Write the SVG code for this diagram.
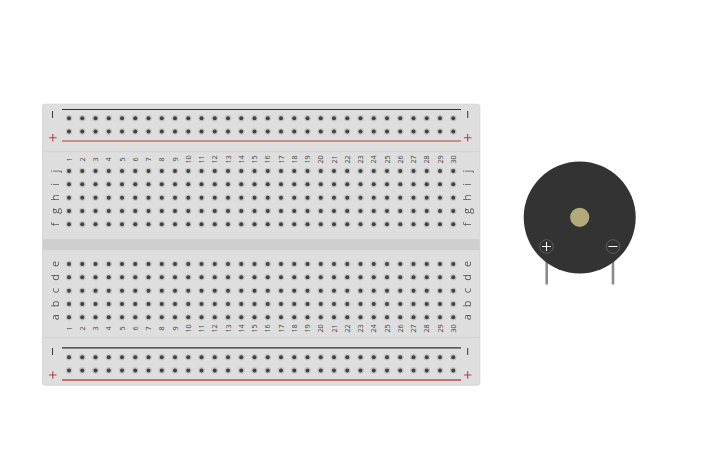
<svg xmlns="http://www.w3.org/2000/svg" width="725" height="453" viewBox="0 0 725 453">
<style>
.n{font-family:"Open Sans","Noto Sans",sans-serif;font-size:7.2px;fill:#404040;text-anchor:middle}
.l{font-family:"Open Sans","Noto Sans",sans-serif;font-size:11px;fill:#555;text-anchor:middle}
.t{opacity:.99}
.lead{stroke:#8c8c8c;stroke-width:2.6;fill:none}
.sym{stroke:#fff;stroke-width:1.1;fill:none}
</style>
<defs>
<g id="hole"><circle r="3.3" fill="#c4c4c4"/><circle r="2" fill="#414141"/></g>
<g id="row">
<use href="#hole" x="69"/><use href="#hole" x="82.25"/><use href="#hole" x="95.5"/><use href="#hole" x="108.75"/><use href="#hole" x="122"/><use href="#hole" x="135.25"/><use href="#hole" x="148.5"/><use href="#hole" x="161.75"/><use href="#hole" x="175"/><use href="#hole" x="188.25"/><use href="#hole" x="201.5"/><use href="#hole" x="214.75"/><use href="#hole" x="228"/><use href="#hole" x="241.25"/><use href="#hole" x="254.5"/><use href="#hole" x="267.75"/><use href="#hole" x="281"/><use href="#hole" x="294.25"/><use href="#hole" x="307.5"/><use href="#hole" x="320.75"/><use href="#hole" x="334"/><use href="#hole" x="347.25"/><use href="#hole" x="360.5"/><use href="#hole" x="373.75"/><use href="#hole" x="387"/><use href="#hole" x="400.25"/><use href="#hole" x="413.5"/><use href="#hole" x="426.75"/><use href="#hole" x="440"/><use href="#hole" x="453.25"/>
</g>
<g id="nums" class="t">
<text class="n" transform="translate(71.5,0) rotate(-90)">1</text><text class="n" transform="translate(84.75,0) rotate(-90)">2</text><text class="n" transform="translate(98,0) rotate(-90)">3</text><text class="n" transform="translate(111.25,0) rotate(-90)">4</text><text class="n" transform="translate(124.5,0) rotate(-90)">5</text><text class="n" transform="translate(137.75,0) rotate(-90)">6</text><text class="n" transform="translate(151,0) rotate(-90)">7</text><text class="n" transform="translate(164.25,0) rotate(-90)">8</text><text class="n" transform="translate(177.5,0) rotate(-90)">9</text><text class="n" transform="translate(190.75,0) rotate(-90)">10</text><text class="n" transform="translate(204,0) rotate(-90)">11</text><text class="n" transform="translate(217.25,0) rotate(-90)">12</text><text class="n" transform="translate(230.5,0) rotate(-90)">13</text><text class="n" transform="translate(243.75,0) rotate(-90)">14</text><text class="n" transform="translate(257,0) rotate(-90)">15</text><text class="n" transform="translate(270.25,0) rotate(-90)">16</text><text class="n" transform="translate(283.5,0) rotate(-90)">17</text><text class="n" transform="translate(296.75,0) rotate(-90)">18</text><text class="n" transform="translate(310,0) rotate(-90)">19</text><text class="n" transform="translate(323.25,0) rotate(-90)">20</text><text class="n" transform="translate(336.5,0) rotate(-90)">21</text><text class="n" transform="translate(349.75,0) rotate(-90)">22</text><text class="n" transform="translate(363,0) rotate(-90)">23</text><text class="n" transform="translate(376.25,0) rotate(-90)">24</text><text class="n" transform="translate(389.5,0) rotate(-90)">25</text><text class="n" transform="translate(402.75,0) rotate(-90)">26</text><text class="n" transform="translate(416,0) rotate(-90)">27</text><text class="n" transform="translate(429.25,0) rotate(-90)">28</text><text class="n" transform="translate(442.5,0) rotate(-90)">29</text><text class="n" transform="translate(455.75,0) rotate(-90)">30</text>
</g>
</defs>
<g id="breadboard">
<rect x="42.5" y="104.2" width="437.3" height="281" rx="2.5" fill="#dedede" stroke="#d0d0d0" stroke-width="0.8"/>
<rect x="43" y="239" width="436.5" height="11" fill="#cfcfcf"/>
<path d="M43 151.7H479.5M43 337.5H479.5" stroke="#cfcfcf" stroke-width="0.9" fill="none"/>
<path d="M62 109.5H461M62 347.9H461" stroke="#2f2f2f" stroke-width="1.2" fill="none"/>
<path d="M62 141H461" stroke="#b03a3a" stroke-width="1.2" fill="none"/>
<path d="M62 380H461" stroke="#bb4a4a" stroke-width="1.7" fill="none"/>
<use href="#row" y="118.3"/><use href="#row" y="131.6"/>
<use href="#row" y="171"/><use href="#row" y="184.3"/><use href="#row" y="197.7"/><use href="#row" y="211"/><use href="#row" y="224.3"/>
<use href="#row" y="264"/><use href="#row" y="277.3"/><use href="#row" y="290.7"/><use href="#row" y="304"/><use href="#row" y="317.3"/>
<use href="#row" y="357.2"/><use href="#row" y="370.4"/>
<use href="#nums" y="159.5"/><use href="#nums" y="328.5"/>
<path d="M52.5 111v7M52.5 348v7M467.7 111v7M467.7 348v7" stroke="#444" stroke-width="1.1" fill="none"/>
<path d="M49 137.7h7.6M52.8 134v7.5M463.9 137.7h7.6M467.7 134v7.5M49 375h7.6M52.8 371.2v7.5M463.9 375h7.6M467.7 371.2v7.5" stroke="#b5403f" stroke-width="1.1" fill="none"/>
<g class="t">
<text class="l" transform="translate(58.5,171) rotate(-90)">j</text>
<text class="l" transform="translate(58.5,184.3) rotate(-90)">i</text>
<text class="l" transform="translate(58.5,197.7) rotate(-90)">h</text>
<text class="l" transform="translate(58.5,211) rotate(-90)">g</text>
<text class="l" transform="translate(58.5,224.3) rotate(-90)">f</text>
<text class="l" transform="translate(58.5,264) rotate(-90)">e</text>
<text class="l" transform="translate(58.5,277.3) rotate(-90)">d</text>
<text class="l" transform="translate(58.5,290.7) rotate(-90)">c</text>
<text class="l" transform="translate(58.5,304) rotate(-90)">b</text>
<text class="l" transform="translate(58.5,317.3) rotate(-90)">a</text>
<text class="l" transform="translate(470.5,171) rotate(-90)">j</text>
<text class="l" transform="translate(470.5,184.3) rotate(-90)">i</text>
<text class="l" transform="translate(470.5,197.7) rotate(-90)">h</text>
<text class="l" transform="translate(470.5,211) rotate(-90)">g</text>
<text class="l" transform="translate(470.5,224.3) rotate(-90)">f</text>
<text class="l" transform="translate(470.5,264) rotate(-90)">e</text>
<text class="l" transform="translate(470.5,277.3) rotate(-90)">d</text>
<text class="l" transform="translate(470.5,290.7) rotate(-90)">c</text>
<text class="l" transform="translate(470.5,304) rotate(-90)">b</text>
<text class="l" transform="translate(470.5,317.3) rotate(-90)">a</text>
</g>
</g>
<g id="buzzer">
<path class="lead" d="M546.7 260V284.5M613 260V284.5"/>
<circle cx="579.7" cy="217.5" r="56" fill="#333333"/>
<circle cx="579.7" cy="217.3" r="9.6" fill="#b3aa7a"/>
<circle cx="546.5" cy="246.5" r="6.8" fill="#333" stroke="#6e6e6e" stroke-width="0.7"/>
<circle cx="613" cy="246.5" r="6.8" fill="#333" stroke="#6e6e6e" stroke-width="0.7"/>
<path class="sym" d="M542 246.5h9M546.5 242v9M608.5 246.5h9"/>
</g>
</svg>
